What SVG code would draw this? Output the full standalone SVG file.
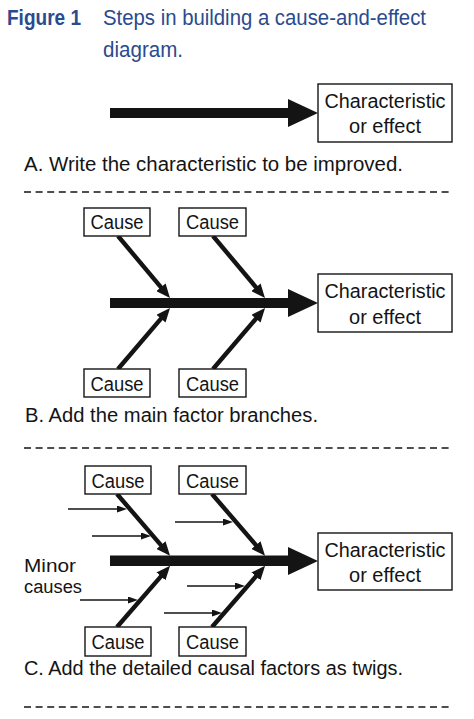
<svg xmlns="http://www.w3.org/2000/svg" width="474" height="719" viewBox="0 0 474 719">
<style>
text{font-family:"Liberation Sans",Arial,sans-serif;fill:#141414}
.t{font-size:20px}
.m{font-size:18px}
.title{font-size:22px;fill:#2a4b8d}
.box{fill:#fff;stroke:#141414;stroke-width:1.4}
.bone{stroke:#141414;stroke-width:4.4;fill:none}
.twig{stroke:#141414;stroke-width:1.4;fill:none}
.dash{stroke:#141414;stroke-width:1.7;stroke-dasharray:7 4.6}
.spine{fill:#141414}
</style>
<defs>
<marker id="big" markerUnits="userSpaceOnUse" viewBox="0 0 14 12" refX="5" refY="6" markerWidth="14" markerHeight="12" orient="auto">
<path d="M0,0 L14,6 L0,12 Z" fill="#141414"/>
</marker>
<marker id="small" markerUnits="userSpaceOnUse" viewBox="0 0 10 7" refX="3" refY="3.5" markerWidth="10" markerHeight="7" orient="auto">
<path d="M0,0 L10,3.5 L0,7 Z" fill="#141414"/>
</marker>
</defs>

<g id="title">
<text class="title" x="7" y="25" font-weight="bold" textLength="74" lengthAdjust="spacingAndGlyphs">Figure 1</text>
<text class="title" x="103" y="25" textLength="323" lengthAdjust="spacingAndGlyphs">Steps in building a cause-and-effect</text>
<text class="title" x="103" y="57" textLength="80" lengthAdjust="spacingAndGlyphs">diagram.</text>
</g>

<!-- Section A -->
<g id="connectors-a">
<path class="spine" d="M110,108 L288,108 L288,99 L318,113 L288,127 L288,118 L110,118 Z"/>
</g>
<g id="effect-a">
<rect class="box" x="318" y="84" width="134" height="58"/>
<text class="t" x="385" y="108" text-anchor="middle" textLength="121" lengthAdjust="spacingAndGlyphs">Characteristic</text>
<text class="t" x="385" y="133" text-anchor="middle" textLength="72" lengthAdjust="spacingAndGlyphs">or effect</text>
</g>
<g id="caption-a">
<text class="t" x="24" y="171" textLength="379" lengthAdjust="spacingAndGlyphs">A. Write the characteristic to be improved.</text>
<line class="dash" x1="24" y1="192" x2="452" y2="192"/>
</g>

<!-- Section B -->
<g id="connectors-b">
<path class="spine" d="M110,298 L288,298 L288,289 L318,303 L288,317 L288,308 L110,308 Z"/>
<line class="bone" x1="118" y1="236" x2="164.2" y2="291.1" marker-end="url(#big)"/>
<line class="bone" x1="213" y1="236" x2="259.2" y2="291.1" marker-end="url(#big)"/>
<line class="bone" x1="118" y1="369" x2="164.2" y2="314.9" marker-end="url(#big)"/>
<line class="bone" x1="213" y1="369" x2="259.2" y2="314.9" marker-end="url(#big)"/>
</g>
<g id="cause-b1"><rect class="box" x="84" y="208" width="66" height="28"/><text class="t" x="117" y="229" text-anchor="middle" textLength="53" lengthAdjust="spacingAndGlyphs">Cause</text></g>
<g id="cause-b2"><rect class="box" x="179" y="208" width="67" height="28"/><text class="t" x="212.5" y="229" text-anchor="middle" textLength="53" lengthAdjust="spacingAndGlyphs">Cause</text></g>
<g id="cause-b3"><rect class="box" x="84" y="369" width="66" height="28"/><text class="t" x="117" y="391" text-anchor="middle" textLength="53" lengthAdjust="spacingAndGlyphs">Cause</text></g>
<g id="cause-b4"><rect class="box" x="179" y="369" width="67" height="28"/><text class="t" x="212.5" y="391" text-anchor="middle" textLength="53" lengthAdjust="spacingAndGlyphs">Cause</text></g>
<g id="effect-b">
<rect class="box" x="318" y="274" width="134" height="58"/>
<text class="t" x="385" y="298" text-anchor="middle" textLength="121" lengthAdjust="spacingAndGlyphs">Characteristic</text>
<text class="t" x="385" y="324" text-anchor="middle" textLength="72" lengthAdjust="spacingAndGlyphs">or effect</text>
</g>
<g id="caption-b">
<text class="t" x="25" y="422" textLength="293" lengthAdjust="spacingAndGlyphs">B. Add the main factor branches.</text>
<line class="dash" x1="24" y1="448" x2="452" y2="448"/>
</g>

<!-- Section C -->
<g id="connectors-c">
<path class="spine" d="M110,555.5 L288,555.5 L288,547 L318,561 L288,575 L288,566 L110,566 Z"/>
<line class="bone" x1="117" y1="494" x2="164.2" y2="548.9" marker-end="url(#big)"/>
<line class="bone" x1="212" y1="494" x2="259.2" y2="548.9" marker-end="url(#big)"/>
<line class="bone" x1="117" y1="627" x2="164.2" y2="572.6" marker-end="url(#big)"/>
<line class="bone" x1="212" y1="627" x2="259.2" y2="572.6" marker-end="url(#big)"/>
<line class="twig" x1="68" y1="509" x2="120" y2="509" marker-end="url(#small)"/>
<line class="twig" x1="92" y1="536" x2="144" y2="536" marker-end="url(#small)"/>
<line class="twig" x1="175" y1="522" x2="226" y2="522" marker-end="url(#small)"/>
<line class="twig" x1="187" y1="586" x2="238" y2="586" marker-end="url(#small)"/>
<line class="twig" x1="80" y1="600" x2="131" y2="600" marker-end="url(#small)"/>
<line class="twig" x1="164" y1="613" x2="215" y2="613" marker-end="url(#small)"/>
</g>
<g id="cause-c1"><rect class="box" x="85" y="466" width="66" height="28"/><text class="t" x="118" y="488" text-anchor="middle" textLength="53" lengthAdjust="spacingAndGlyphs">Cause</text></g>
<g id="cause-c2"><rect class="box" x="179" y="466" width="67" height="28"/><text class="t" x="212.5" y="488" text-anchor="middle" textLength="53" lengthAdjust="spacingAndGlyphs">Cause</text></g>
<g id="cause-c3"><rect class="box" x="85" y="627" width="66" height="29"/><text class="t" x="118" y="649" text-anchor="middle" textLength="53" lengthAdjust="spacingAndGlyphs">Cause</text></g>
<g id="cause-c4"><rect class="box" x="179" y="627" width="67" height="29"/><text class="t" x="212.5" y="649" text-anchor="middle" textLength="53" lengthAdjust="spacingAndGlyphs">Cause</text></g>
<g id="minor-causes">
<text class="m" x="24" y="572" textLength="52" lengthAdjust="spacingAndGlyphs">Minor</text>
<text class="m" x="24" y="593" textLength="58" lengthAdjust="spacingAndGlyphs">causes</text>
</g>
<g id="effect-c">
<rect class="box" x="318" y="533" width="134" height="57"/>
<text class="t" x="385" y="557" text-anchor="middle" textLength="121" lengthAdjust="spacingAndGlyphs">Characteristic</text>
<text class="t" x="385" y="582" text-anchor="middle" textLength="72" lengthAdjust="spacingAndGlyphs">or effect</text>
</g>
<g id="caption-c">
<text class="t" x="24" y="675" textLength="379" lengthAdjust="spacingAndGlyphs">C. Add the detailed causal factors as twigs.</text>
<line class="dash" x1="24" y1="707" x2="452" y2="707"/>
</g>
</svg>
